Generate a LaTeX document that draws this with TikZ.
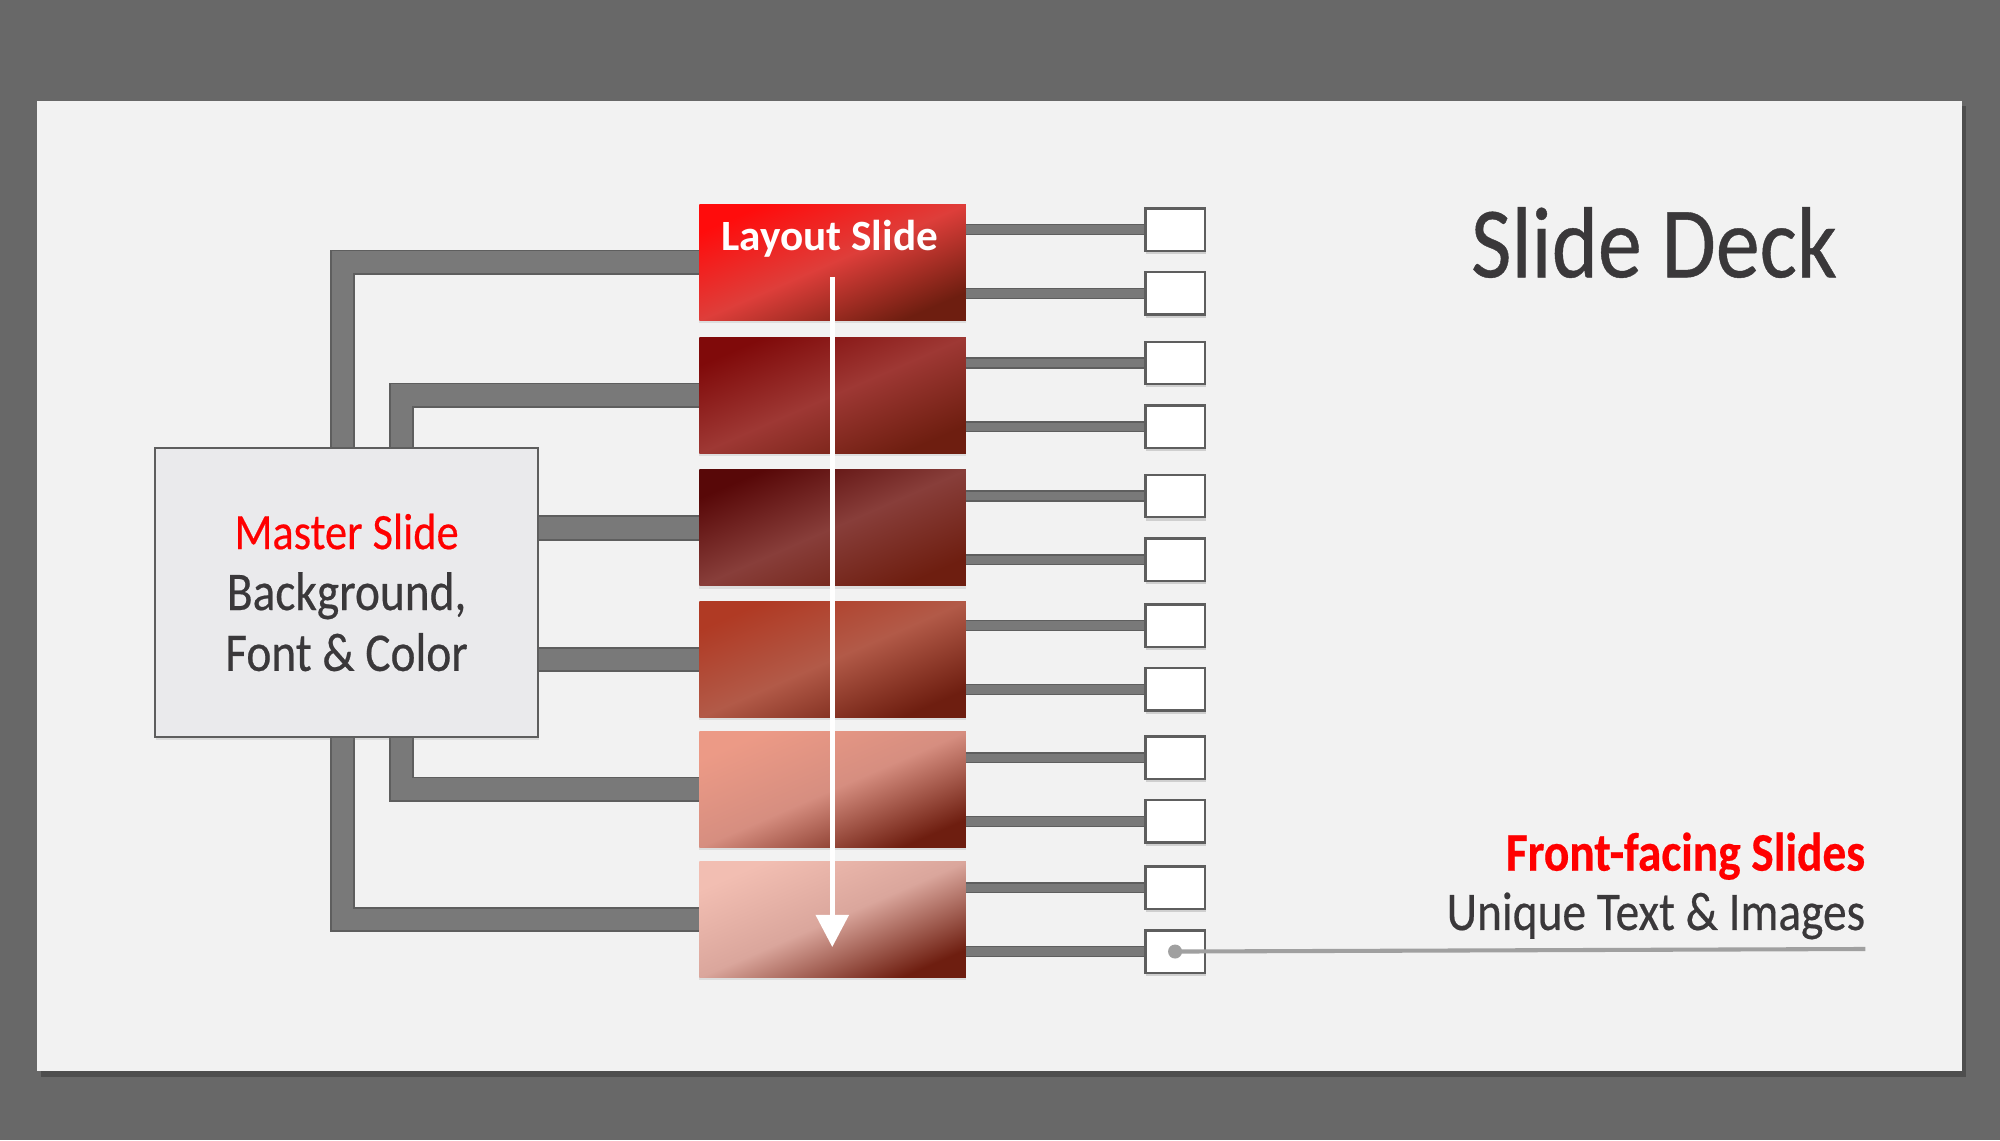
\documentclass[tikz,border=0pt]{standalone}
\usepackage{fontspec}
\setmainfont{Carlito}[FakeStretch=0.87,FakeBold=0.4]
\newfontfamily\layoutfont{Carlito}
\usepackage{tikz}
\usetikzlibrary{arrows.meta,shadows}

\definecolor{deckgrey}{RGB}{104,104,104}
\definecolor{slidebg}{RGB}{242,242,242}
\definecolor{slideshade}{RGB}{78,78,78}
\definecolor{linkfill}{RGB}{121,121,121}
\definecolor{linkedge}{RGB}{94,94,94}
\definecolor{masterfill}{RGB}{234,234,236}
\definecolor{textgrey}{RGB}{58,56,58}
\definecolor{ruleline}{RGB}{160,160,160}
\definecolor{tileend}{RGB}{110,30,16}
\definecolor{tileA}{RGB}{255,12,12}   \definecolor{tileAm}{RGB}{222,62,58}
\definecolor{tileB}{RGB}{128,10,10}   \definecolor{tileBm}{RGB}{158,56,52}
\definecolor{tileC}{RGB}{88,8,8}      \definecolor{tileCm}{RGB}{136,62,58}
\definecolor{tileD}{RGB}{176,58,36}   \definecolor{tileDm}{RGB}{178,90,72}
\definecolor{tileE}{RGB}{236,154,134} \definecolor{tileEm}{RGB}{214,142,128}
\definecolor{tileF}{RGB}{242,190,178} \definecolor{tileFm}{RGB}{218,166,156}

\pgfdeclarelayer{bg}
\pgfdeclarelayer{links}
\pgfsetlayers{bg,links,main}

\tikzset{
  tile/.style n args={2}{rectangle, inner sep=0pt, minimum width=156.75pt, minimum height=68.25pt,
    top color=#1, bottom color=tileend, middle color=#2, shading angle=23.5,
    drop shadow={opacity=0.18, shadow xshift=0pt, shadow yshift=-1.5pt}},
  frontbox/.style={rectangle, draw=linkedge, line width=1.4pt, fill=white, inner sep=0pt,
    minimum width=35pt, minimum height=24.9pt,
    drop shadow={opacity=0.3, shadow xshift=0.4pt, shadow yshift=-2pt}},
  masterbox/.style={rectangle, draw=linkedge, line width=1.2pt, fill=masterfill, inner sep=0pt,
    minimum width=225pt, minimum height=170pt, align=center, text=textgrey,
    font=\fontsize{32}{35.8}\selectfont,
    drop shadow={opacity=0.2, shadow xshift=0.5pt, shadow yshift=-1.5pt}},
  trunk/.style={draw=linkedge, line width=1.1pt, double=linkfill, double distance=12.8pt},
  branch/.style={draw=linkedge, line width=0.9pt, double=linkfill, double distance=4.9pt},
  flow/.style={draw=white, line width=3pt, -{Triangle[width=19pt,length=19pt]}},
}

\begin{document}
\begin{tikzpicture}[x=0.75pt,y=0.75pt,yscale=-1,xscale=1]
\useasboundingbox (0,0) rectangle (1568,894);

%Background
\begin{pgfonlayer}{bg}
\fill [deckgrey] (0,0) rectangle (1568,894);
\fill [slideshade] (32,83) rectangle (1541,844);
\fill [slidebg] (29,79) rectangle (1538,840);
\end{pgfonlayer}

% Layout Slides
\node [tile={tileA}{tileAm}] (L1) at (652.75,205.7) {};
\node [tile={tileB}{tileBm}] (L2) at (652.75,309.9) {};
\node [tile={tileC}{tileCm}] (L3) at (652.75,413.9) {};
\node [tile={tileD}{tileDm}] (L4) at (652.75,517.1) {};
\node [tile={tileE}{tileEm}] (L5) at (652.75,618.8) {};
\node [tile={tileF}{tileFm}] (L6) at (652.75,720.9) {};

% Master Slide
\node [masterbox] (master) at (271.75,464.5)
  {\textcolor{red}{\fontsize{30}{35.8}\selectfont Master Slide}\\
   Background,\\
   Font \& Color};

% Front-facing Slides
\node [frontbox] (F1) at (921.25,180) {};
\node [frontbox] (F2) at (921.25,230) {};
\node [frontbox] (F3) at (921.25,284.5) {};
\node [frontbox] (F4) at (921.25,334.5) {};
\node [frontbox] (F5) at (921.25,388.8) {};
\node [frontbox] (F6) at (921.25,438.8) {};
\node [frontbox] (F7) at (921.25,490.5) {};
\node [frontbox] (F8) at (921.25,540.5) {};
\node [frontbox] (F9) at (921.25,594) {};
\node [frontbox] (F10) at (921.25,644) {};
\node [frontbox] (F11) at (921.25,696) {};
\node [frontbox] (F12) at (921.25,746) {};

%Straight Lines
\begin{pgfonlayer}{links}
\draw [trunk] (L1.west) -| ([xshift=-2.44pt]master.north);
\draw [trunk] (L2.west) -| ([xshift=32.25pt]master.north);
\draw [trunk] (master.east |- L3.west) -- (L3.west);
\draw [trunk] (master.east |- L4.west) -- (L4.west);
\draw [trunk] ([xshift=32.25pt]master.south) |- (L5.west);
\draw [trunk] ([xshift=-2.44pt]master.south) |- (L6.west);
\draw [branch] (F1.west -| L1.east) -- (F1.west);
\draw [branch] (F2.west -| L1.east) -- (F2.west);
\draw [branch] (F3.west -| L2.east) -- (F3.west);
\draw [branch] (F4.west -| L2.east) -- (F4.west);
\draw [branch] (F5.west -| L3.east) -- (F5.west);
\draw [branch] (F6.west -| L3.east) -- (F6.west);
\draw [branch] (F7.west -| L4.east) -- (F7.west);
\draw [branch] (F8.west -| L4.east) -- (F8.west);
\draw [branch] (F9.west -| L5.east) -- (F9.west);
\draw [branch] (F10.west -| L5.east) -- (F10.west);
\draw [branch] (F11.west -| L6.east) -- (F11.west);
\draw [branch] (F12.west -| L6.east) -- (F12.west);
\end{pgfonlayer}

% Arrow
\coordinate (flowtop) at (652.5,217);
\coordinate (flowtip) at (652.5,742.5);
\draw [flow] (flowtop) -- (flowtip);

% Text Node
\node [anchor=base, inner sep=0pt, text=white, font=\layoutfont\bfseries\fontsize{25.4}{28}\selectfont] (ltext) at (650.5,196.7) {Layout Slide};
% Text Node
\node [anchor=base east, inner sep=0pt, text=textgrey, font=\fontsize{59.5}{64}\selectfont] (deck) at (1440.5,217.4) {Slide Deck};
% Text Node
\node [anchor=base east, inner sep=0pt, text=red, font=\bfseries\fontsize{32}{36}\selectfont] (front) at (1462.5,682.6) {Front-facing Slides};
% Text Node
\node [anchor=base east, inner sep=0pt, text=textgrey, font=\fontsize{32}{36}\selectfont] (unique) at (1462.5,729.1) {Unique Text \& Images};

% Pointer
\coordinate (uend) at (1462.5,744);
\draw [ruleline, line width=2.4pt] (F12.center) -- (uend);
\fill [ruleline] (F12.center) circle [radius=5.5];

\end{tikzpicture}
\end{document}
